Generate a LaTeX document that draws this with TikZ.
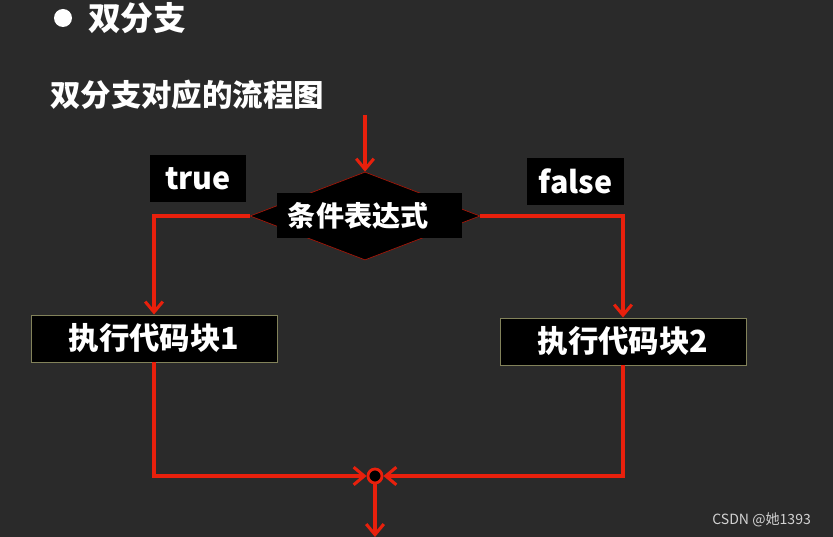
\documentclass[tikz,border=0pt]{standalone}
\usepackage{fontspec}
\newfontfamily\cjk{Noto Sans CJK SC}
\usepackage{tikz}
\usetikzlibrary{shapes.geometric,arrows.meta}
\definecolor{board}{RGB}{42,42,42}
\definecolor{flowred}{RGB}{232,32,12}
\definecolor{boxedge}{RGB}{130,130,90}

\begin{document}
\begin{tikzpicture}[x=0.03cm,y=-0.03cm,
    txt/.style={text=white,font=\cjk\bfseries\fontsize{26}{30}\selectfont},
    tag_node/.style={txt,fill=black,inner sep=0pt,minimum height=1.41cm},
    code_node/.style={txt,fill=black,draw=boxedge,line width=0.8pt,inner sep=0pt,minimum width=7.38cm,minimum height=1.41cm},
    flow/.style={draw=flowred,line width=3pt,-{Straight Barb[length=9pt,width=15pt,line width=2.6pt]}}]

    \useasboundingbox[fill=board] (0,0) rectangle (833,537);

    \node[circle,fill=white,minimum size=0.54cm,inner sep=0pt] (dot) at (63,18) {};
    \node[txt,font=\cjk\bfseries\fontsize{28}{32}\selectfont,anchor=west] (head) at (84,18) {双分支};
    \node[txt,anchor=west] (sub) at (46,95) {双分支对应的流程图};

    \node[diamond,fill=black,draw=flowred!70!black,line width=0.6pt,inner sep=0pt,minimum width=6.9cm,minimum height=2.64cm] (dia) at (365,216) {};
    \node[tag_node,font=\cjk\bfseries\fontsize{24}{28}\selectfont,text width=4.89cm,inner xsep=0.33cm,align=left,minimum height=1.35cm] (cond) at (369.5,215.5) {条件表达式};
    \node[tag_node,minimum width=2.88cm] (yes) at (198,178.5) {true};
    \node[tag_node,minimum width=2.91cm] (no) at (575.5,181.5) {false};

    \node[code_node] (blk1) at (154,338.5) {执行代码块1};
    \node[code_node] (blk2) at (623,341.5) {执行代码块2};

    \node[circle,fill=black,draw=flowred,line width=2.4pt,minimum size=0.42cm,inner sep=0pt] (join) at (375,476) {};

    \coordinate (start) at (365,115);
    \coordinate (stop) at (375,537);

    \draw[flow] (start) -- (dia.north);
    \draw[flow] (dia.west) -| (blk1.north);
    \draw[flow] (dia.east) -| (blk2.north);
    \draw[flow] (blk1.south) |- (join.west);
    \draw[flow] (blk2.south) |- (join.east);
    \draw[flow] (join.south) -- (stop);

    \node[text=gray!35,font=\cjk\fontsize{12}{14}\selectfont,anchor=east] (mark) at (815,520) {CSDN @她1393};

\end{tikzpicture}
\end{document}
